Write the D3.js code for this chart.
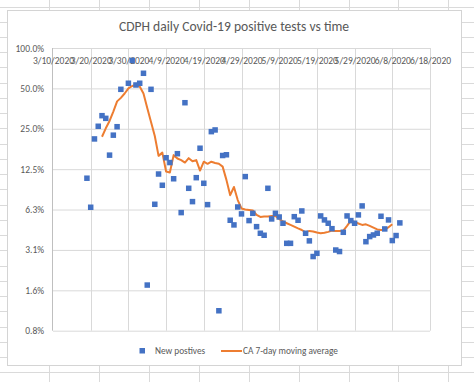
<!DOCTYPE html>
<html>
<head>
<meta charset="utf-8">
<script src="https://cdn.jsdelivr.net/npm/d3@7"></script>
<style>
  body { margin: 0; background: #fff; }
  svg { display: block; }
  text { font-family: Carlito, Lato, 'Liberation Sans', sans-serif; fill: #595959; }
</style>
</head>
<body>
<div id="chart"></div>
<script>
// tick labels
const xTickLabels = ['3/10/2020', '3/20/2020', '3/30/2020', '4/9/2020', '4/19/2020', '4/29/2020',
  '5/9/2020', '5/19/2020', '5/29/2020', '6/8/2020', '6/18/2020']
const yTicks = [100, 50, 25, 12.5, 6.25, 3.125, 1.5625, 0.78125]
const yTickLabels = ['100.0%', '50.0%', '25.0%', '12.5%', '6.3%', '3.1%', '1.6%', '0.8%']

// daily new positives (% of tests)
const positiveDates = ['3/19', '3/20', '3/21', '3/22', '3/23', '3/24', '3/25', '3/26', '3/27', '3/28',
  '3/30', '3/31', '4/1', '4/2', '4/3', '4/4', '4/5', '4/6', '4/7', '4/8', '4/9', '4/10', '4/11', '4/12',
  '4/13', '4/14', '4/15', '4/16', '4/17', '4/18', '4/19', '4/20', '4/21', '4/22', '4/23', '4/24', '4/25',
  '4/26', '4/27', '4/28', '4/29', '4/30', '5/1', '5/2', '5/3', '5/4', '5/5', '5/6', '5/7', '5/8', '5/9',
  '5/10', '5/11', '5/12', '5/13', '5/14', '5/15', '5/16', '5/17', '5/18', '5/19', '5/20', '5/21', '5/22',
  '5/23', '5/24', '5/25', '5/26', '5/27', '5/28', '5/29', '5/30', '5/31', '6/1', '6/2', '6/3', '6/4',
  '6/5', '6/6', '6/7', '6/8', '6/9', '6/10']
const positiveValues = [10.7, 6.5, 21.0, 26.1, 31.3, 29.9, 15.9, 22.4, 25.9, 49.2,
  54.6, 80.7, 53.0, 54.6, 64.8, 1.71, 49.2, 6.84, 11.5, 9.48, 15.2, 14.0, 10.6, 16.3,
  5.93, 39.1, 9.0, 7.16, 10.8, 17.9, 9.81, 6.8, 23.8, 24.5, 1.10, 15.8, 16.0,
  5.2, 4.8, 6.53, 5.8, 11.0, 5.17, 5.86, 4.66, 4.16, 4.02, 9.0, 5.32, 5.86, 5.5,
  4.94, 3.5, 3.5, 5.53, 5.2, 6.1, 4.16, 3.65, 2.79, 2.95, 5.6, 5.23, 4.94,
  4.5, 3.12, 3.04, 4.23, 5.6, 5.17, 4.94, 5.7, 6.65, 3.6, 3.93, 4.04, 4.16,
  5.57, 4.48, 5.23, 3.67, 4.0, 4.97]

// CA 7-day moving average (%)
const avgDates = ['3/23', '3/24', '3/25', '3/26', '3/27', '3/28', '3/29', '3/30', '3/31', '4/1', '4/2',
  '4/3', '4/4', '4/5', '4/6', '4/7', '4/8', '4/9', '4/10', '4/11', '4/12', '4/13', '4/14', '4/15', '4/16',
  '4/17', '4/18', '4/19', '4/20', '4/21', '4/22', '4/23', '4/24', '4/25', '4/26', '4/27', '4/28', '4/29',
  '4/30', '5/1', '5/2', '5/3', '5/4', '5/5', '5/6', '5/7', '5/8', '5/9', '5/10', '5/11', '5/12', '5/13',
  '5/14', '5/15', '5/16', '5/17', '5/18', '5/19', '5/20', '5/21', '5/22', '5/23', '5/24', '5/25', '5/26',
  '5/27', '5/28', '5/29', '5/30', '5/31', '6/1', '6/2', '6/3', '6/4', '6/5', '6/6', '6/7', '6/8']
const avgValues = [21.8, 25.2, 28.6, 33.6, 40.0, 42.5, 45.8, 50.0, 52.1, 53.0, 51.6,
  45.8, 35.7, 28.1, 22.1, 15.7, 16.6, 12.0, 11.8, 15.9, 15.0, 14.6, 14.0, 15.1, 14.3,
  14.6, 12.2, 14.2, 13.7, 14.2, 13.9, 13.7, 13.05, 10.4, 8.0, 9.2, 7.35, 6.37,
  6.26, 6.21, 6.15, 5.70, 5.50, 5.55, 5.55, 5.60, 5.60, 5.32, 5.09, 4.94, 4.80, 4.66,
  4.52, 4.40, 4.23, 4.33, 4.29, 4.22, 4.16, 4.20, 4.26, 4.35, 4.33, 4.33, 4.35,
  4.72, 5.17, 5.05, 4.92, 4.80, 4.85, 4.72, 4.58, 4.44, 4.40, 4.40, 4.61, 4.85]

const width = 474
const height = 382
const box = {x: 7, y: 10, w: 454, h: 355}
const margin = {top: 48, right: 44, bottom: 51.3, left: 53}

const parseDate = s => d3.timeParse('%m/%d/%Y')(s.split('/').length === 2 ? s + '/2020' : s)

const x = d3.scaleTime()
  .domain([parseDate(xTickLabels[0]), parseDate(xTickLabels[xTickLabels.length - 1])])
  .range([margin.left, width - margin.right])
const y = d3.scaleLog()
  .base(2)
  .domain([yTicks[yTicks.length - 1], yTicks[0]])
  .range([height - margin.bottom, margin.top])

const svg = d3.create('svg')
  .attr('width', width)
  .attr('height', height)
  .attr('viewBox', [0, 0, width, height])

// spreadsheet cells behind the chart
const sheet = svg.append('g').attr('stroke', '#dadada').attr('stroke-width', 1)
sheet.selectAll('line.v')
  .data(d3.range(49.3, width, 49.875))
  .join('line')
  .attr('x1', d => Math.round(d) + 0.5).attr('x2', d => Math.round(d) + 0.5)
  .attr('y1', 0).attr('y2', height)
sheet.selectAll('line.h')
  .data(d3.range(6.5, height, 15.24))
  .join('line')
  .attr('y1', d => Math.round(d) + 0.5).attr('y2', d => Math.round(d) + 0.5)
  .attr('x1', 0).attr('x2', width)

// chart area
svg.append('rect')
  .attr('x', box.x + 0.5).attr('y', box.y + 0.5)
  .attr('width', box.w).attr('height', box.h)
  .attr('fill', '#fff')
  .attr('stroke', '#d4d4d4')

// title
svg.append('text')
  .attr('x', 234)
  .attr('y', 31)
  .attr('text-anchor', 'middle')
  .attr('font-size', 13.6)
  .text('CDPH daily Covid-19 positive tests vs time')

// horizontal gridlines + y labels
const yAxis = g => g
  .attr('transform', `translate(${margin.left}, 0)`)
  .call(d3.axisLeft(y)
    .tickValues(yTicks)
    .tickFormat((d, i) => yTickLabels[i])
    .tickSize(-(width - margin.right - margin.left))
    .tickPadding(9))
  .call(g => g.select('.domain').remove())
  .call(g => g.selectAll('.tick line').attr('stroke', '#d9d9d9'))
  .call(g => g.selectAll('.tick text')
    .attr('font-size', 9.5)
    .attr('font-family', null)
    .attr('fill', '#595959'))

// vertical gridlines + x labels (axis sits at the top)
const xAxis = g => g
  .attr('transform', `translate(0, ${margin.top})`)
  .call(d3.axisBottom(x)
    .tickValues(xTickLabels.map(parseDate))
    .tickFormat((d, i) => xTickLabels[i])
    .tickSize(0)
    .tickPadding(9))
  .call(g => g.select('.domain').remove())
  .call(g => g.selectAll('.tick text')
    .attr('font-size', 9.5)
    .attr('font-family', null)
    .attr('fill', '#595959'))

svg.append('g')
  .attr('stroke', '#d9d9d9')
  .selectAll('line')
  .data(xTickLabels.slice(1))
  .join('line')
  .attr('x1', d => Math.round(x(parseDate(d))) + 0.5)
  .attr('x2', d => Math.round(x(parseDate(d))) + 0.5)
  .attr('y1', margin.top)
  .attr('y2', height - margin.bottom)

svg.append('g').call(yAxis)

// value axis line
svg.append('line')
  .attr('x1', margin.left - 0.5).attr('x2', margin.left - 0.5)
  .attr('y1', margin.top).attr('y2', height - margin.bottom)
  .attr('stroke', '#bfbfbf')

svg.append('g').call(xAxis)

// moving average line
const line = d3.line()
  .x((d, i) => x(parseDate(avgDates[i])))
  .y(d => y(d))
svg.append('path')
  .datum(avgValues)
  .attr('fill', 'none')
  .attr('stroke', '#ed7d31')
  .attr('stroke-width', 2)
  .attr('stroke-linejoin', 'round')
  .attr('d', line)

// daily points
const size = 5.5
svg.append('g')
  .attr('fill', '#4472c4')
  .selectAll('rect')
  .data(positiveValues)
  .join('rect')
  .attr('x', (d, i) => x(parseDate(positiveDates[i])) - size / 2)
  .attr('y', d => y(d) - size / 2)
  .attr('width', size)
  .attr('height', size)

// legend
const legend = svg.append('g').attr('font-size', 9.3)
legend.append('rect')
  .attr('x', 139.5).attr('y', 348)
  .attr('width', 5.5).attr('height', 5.5)
  .attr('fill', '#4472c4')
legend.append('text')
  .attr('x', 155).attr('y', 351).attr('dy', '0.35em')
  .text('New postives')
legend.append('line')
  .attr('x1', 221).attr('x2', 242)
  .attr('y1', 351).attr('y2', 351)
  .attr('stroke', '#ed7d31').attr('stroke-width', 2)
legend.append('text')
  .attr('x', 243).attr('y', 351).attr('dy', '0.35em')
  .text('CA 7-day moving average')

document.getElementById('chart').appendChild(svg.node())
</script>
</body>
</html>
